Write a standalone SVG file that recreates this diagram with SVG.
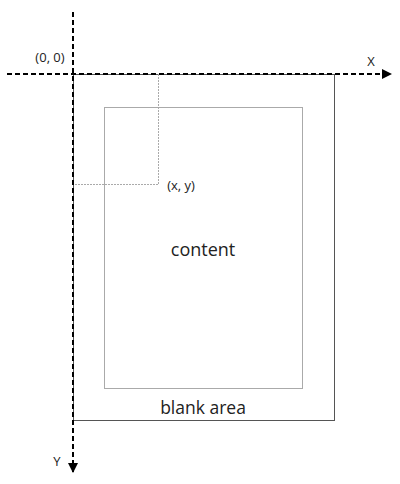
<svg xmlns="http://www.w3.org/2000/svg" width="400" height="484" viewBox="0 0 400 484">
<style>
.axis{stroke:#000;stroke-width:2;stroke-dasharray:5,3;fill:none}
.t{font-family:"Open Sans","Noto Sans",sans-serif;fill:#222}
</style>
<defs>
<marker id="ah" markerWidth="10" markerHeight="10" refX="9" refY="5" orient="auto" markerUnits="userSpaceOnUse"><path d="M0,0 L10,5 L0,10 z" fill="#000"/></marker>
</defs>
<rect width="400" height="484" fill="#fff"/>
<g id="blank-area">
<rect x="73.5" y="74.5" width="261" height="346" fill="none" stroke="#555" stroke-width="1"/>
<text class="t" x="203" y="414" font-size="17.5" text-anchor="middle">blank area</text>
</g>
<g id="content">
<rect x="104.5" y="107.5" width="198" height="281" fill="none" stroke="#aaa" stroke-width="1"/>
<text class="t" x="203" y="256" font-size="18" text-anchor="middle">content</text>
</g>
<g id="connectors">
<path d="M158.5,74 V184.5 H73" fill="none" stroke="#aaa" stroke-width="1" stroke-dasharray="2,1"/>
<line class="axis" x1="7" y1="74" x2="391" y2="74" marker-end="url(#ah)"/>
<line class="axis" x1="73" y1="12" x2="73" y2="472" marker-end="url(#ah)"/>
</g>
<g id="labels">
<text class="t" x="50" y="62" font-size="13" text-anchor="middle">(0, 0)</text>
<text class="t" x="371" y="66" font-size="13" text-anchor="middle">X</text>
<text class="t" x="181" y="190" font-size="13" text-anchor="middle">(x, y)</text>
<text class="t" x="57" y="466" font-size="13" text-anchor="middle">Y</text>
</g>
</svg>
